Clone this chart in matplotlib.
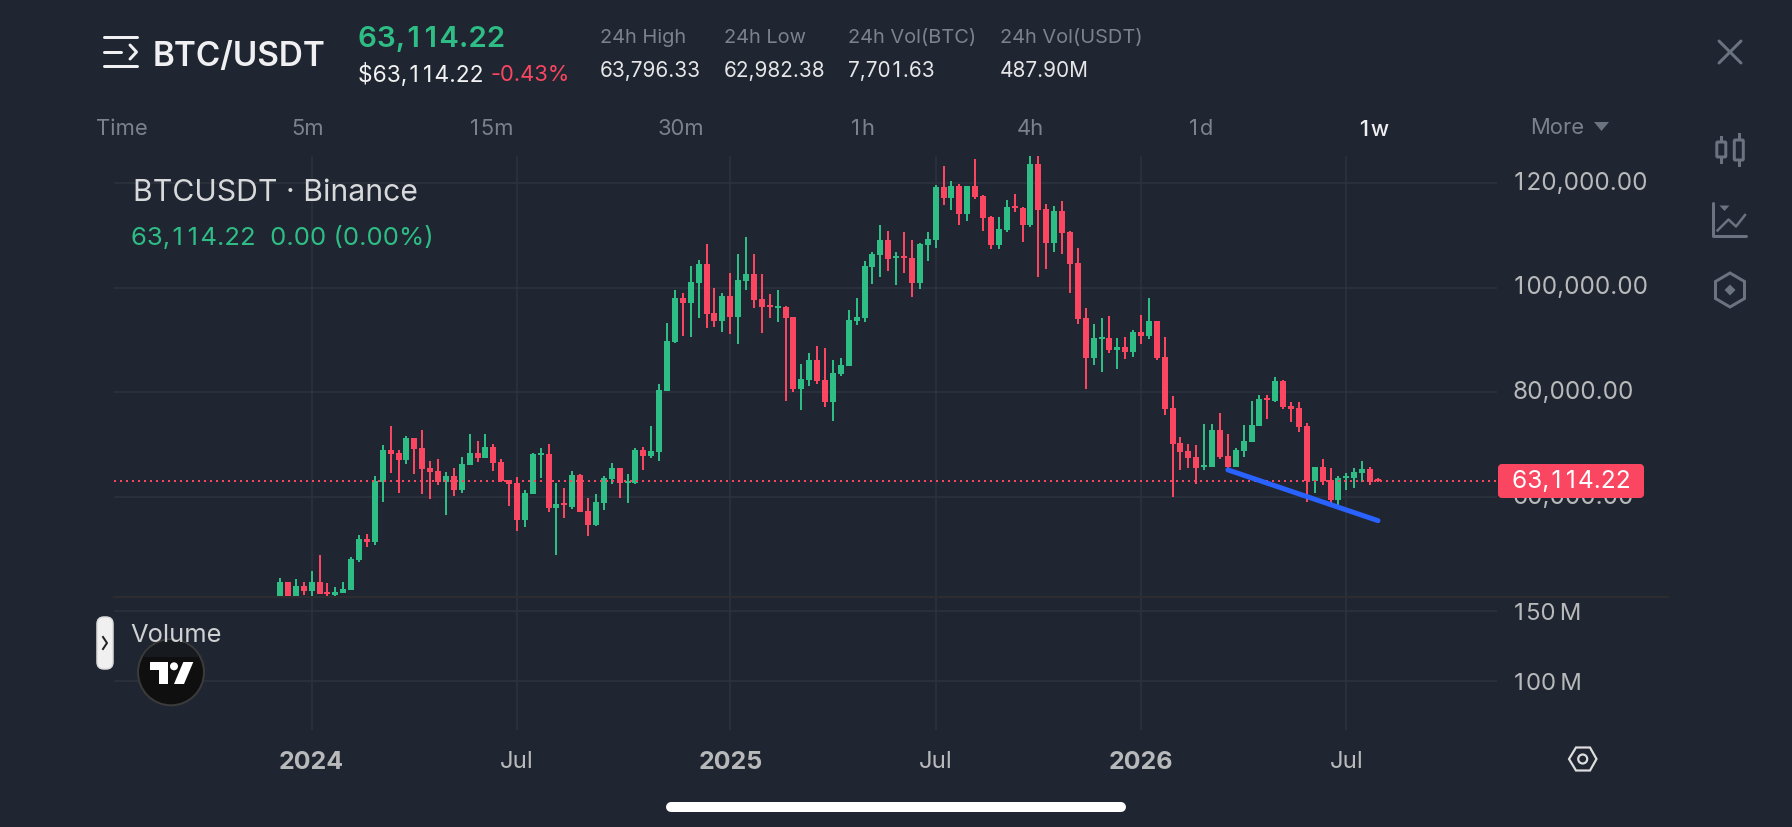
import matplotlib
matplotlib.use("Agg")
import matplotlib.pyplot as plt
from matplotlib.patches import Circle, FancyBboxPatch, Polygon, Rectangle
from matplotlib.ticker import FuncFormatter
from matplotlib.transforms import ScaledTranslation

# weekly candles, prices in thousands of USDT
opens = [40.5, 43.82, 41.15, 43.05, 42.10, 43.82, 41.91, 41.34, 41.72, 42.29,
         48.02, 52.03, 51.46, 62.92, 69.03, 68.46, 67.12, 71.32, 69.41, 65.59,
         65.02, 62.92, 64.07, 61.39, 66.17, 68.46, 67.50, 69.60, 66.74, 63.30,
         62.73, 55.66, 60.63, 68.08, 68.27, 57.95, 58.91, 58.14, 64.26, 57.38,
         54.71, 58.91, 63.49, 65.59, 62.73, 62.73, 69.03, 67.89, 68.65, 80.19,
         89.56, 97.96, 97.01, 100.83, 104.46, 95.10, 93.57, 98.35, 94.33, 101.21,
         102.55, 97.77, 96.63, 96.05, 96.24, 94.33, 80.57, 82.29, 86.12, 82.29,
         78.09, 83.44, 84.97, 93.57, 94.14, 103.89, 106.18, 109.05, 105.61, 105.99,
         105.61, 100.83, 108.09, 109.05, 119.18, 117.08, 119.37, 114.02, 119.37, 117.46,
         113.44, 108.09, 110.96, 115.55, 115.17, 111.92, 123.57, 114.97, 108.48, 114.59,
         110.58, 104.65, 94.14, 86.50, 90.13, 90.32, 88.03, 88.60, 87.65, 91.47,
         90.70, 93.57, 86.69, 76.94, 70.25, 68.72, 67.58, 65.67, 65.67, 72.74,
         67.77, 65.67, 68.72, 70.44, 73.50, 78.85, 78.28, 82.10, 77.32, 76.94,
         73.50, 62.99, 65.67, 63.18, 59.36, 63.56, 63.56, 64.52, 65.28, 63.45]
highs = [44.58, 43.82, 44.39, 43.82, 45.92, 48.98, 43.63, 42.86, 43.82, 48.59,
         52.80, 52.99, 64.07, 69.99, 73.62, 69.03, 71.71, 71.32, 72.85, 66.93,
         67.31, 64.83, 65.59, 67.69, 72.09, 70.75, 72.09, 70.18, 67.31, 63.30,
         63.87, 61.39, 68.46, 69.41, 70.18, 62.73, 61.77, 65.02, 64.45, 59.86,
         60.63, 64.07, 66.55, 65.59, 64.45, 69.41, 69.60, 73.62, 81.64, 93.19,
         99.49, 98.92, 104.08, 105.23, 108.28, 99.88, 98.92, 102.74, 106.37, 109.62,
         106.37, 102.55, 98.73, 99.49, 96.44, 94.33, 85.35, 87.45, 88.79, 88.41,
         86.12, 86.50, 95.67, 97.96, 105.04, 106.76, 111.91, 110.77, 106.76, 110.58,
         109.05, 108.47, 110.58, 119.56, 123.19, 120.32, 119.75, 119.37, 124.53, 117.65,
         113.64, 113.44, 116.69, 117.84, 115.36, 126.20, 126.20, 115.93, 115.55, 116.50,
         110.77, 107.52, 96.06, 93.00, 94.14, 94.53, 90.32, 90.51, 91.85, 94.72,
         97.97, 93.57, 90.51, 79.23, 71.40, 70.06, 69.87, 73.88, 73.88, 75.99,
         71.97, 69.30, 73.69, 78.28, 79.43, 79.43, 82.87, 82.29, 78.09, 78.09,
         74.07, 65.67, 67.19, 65.48, 63.95, 64.52, 65.48, 66.81, 65.67, 63.56]
lows = [40.5, 40.5, 41.15, 41.34, 41.15, 41.53, 41.15, 41.15, 41.72, 42.29,
        47.64, 50.50, 50.89, 59.10, 64.64, 60.82, 66.36, 64.45, 60.63, 59.67,
        62.35, 56.62, 60.25, 60.82, 66.17, 66.74, 67.50, 65.02, 62.92, 58.34,
        53.56, 54.32, 60.63, 63.68, 57.19, 48.98, 56.04, 57.76, 57.19, 52.61,
        54.52, 57.57, 62.54, 59.86, 58.91, 62.54, 65.21, 67.50, 66.93, 80.19,
        89.36, 90.70, 90.51, 94.14, 92.23, 92.42, 91.47, 91.08, 89.17, 99.49,
        96.05, 91.28, 94.14, 93.38, 78.28, 79.99, 76.56, 81.15, 81.53, 77.13,
        74.46, 83.06, 84.97, 92.80, 93.38, 100.64, 101.98, 103.12, 100.45, 102.74,
        98.15, 99.68, 105.04, 107.52, 115.74, 114.78, 111.92, 112.68, 116.89, 110.77,
        107.33, 107.33, 110.58, 114.40, 108.67, 111.53, 101.98, 103.51, 106.76, 106.37,
        98.92, 93.00, 80.58, 85.16, 83.82, 87.46, 84.40, 86.31, 86.69, 89.17,
        90.13, 86.12, 75.61, 59.93, 65.09, 65.48, 62.42, 65.09, 65.67, 67.19,
        64.90, 65.67, 67.58, 70.44, 73.50, 74.84, 78.09, 76.75, 74.27, 72.35,
        58.98, 60.70, 62.23, 58.02, 57.64, 61.27, 61.65, 62.80, 62.23, 62.95]
closes = [43.82, 40.5, 43.05, 42.10, 43.82, 41.53, 41.53, 41.91, 42.48, 48.21,
          52.03, 51.46, 63.11, 69.03, 68.27, 67.12, 71.32, 69.22, 65.40, 64.83,
          62.92, 64.07, 61.39, 66.36, 68.46, 67.50, 69.60, 66.55, 63.11, 62.54,
          55.66, 60.82, 68.27, 68.46, 57.95, 58.72, 58.53, 64.26, 57.19, 54.71,
          59.10, 63.68, 65.59, 62.73, 63.11, 69.03, 67.89, 68.84, 80.49, 89.75,
          97.96, 97.01, 101.02, 104.46, 94.91, 93.57, 98.35, 94.33, 101.40, 102.55,
          97.58, 96.24, 96.24, 96.44, 94.14, 80.57, 82.48, 86.12, 82.10, 78.09,
          83.63, 85.16, 93.76, 94.33, 104.08, 106.37, 109.05, 105.42, 105.99, 105.61,
          100.83, 108.28, 109.24, 119.18, 117.08, 119.37, 114.02, 119.37, 117.27, 113.25,
          108.09, 111.15, 115.36, 115.17, 111.92, 123.57, 114.78, 108.48, 114.59, 110.39,
          104.46, 93.95, 86.50, 90.32, 90.51, 88.03, 88.60, 87.65, 91.47, 90.70,
          93.57, 86.50, 76.75, 70.06, 68.53, 67.39, 65.48, 66.05, 72.74, 67.58,
          65.67, 68.91, 70.63, 73.69, 78.66, 78.47, 82.10, 77.13, 76.75, 73.31,
          62.99, 65.67, 62.99, 59.36, 63.56, 63.95, 64.71, 65.28, 62.80, 63.11]

last_price = 63114.22
trend_x = [120, 139]
trend_y = [65200, 55500]

price_ticks = [60000, 80000, 100000, 120000]
volume_ticks = [100e6, 150e6]
time_idx = [4, 30, 57, 83, 109, 135]
time_labels = ["2024", "Jul", "2025", "Jul", "2026", "Jul"]

header_names = ["24h High", "24h Low", "24h Vol(BTC)", "24h Vol(USDT)"]
header_values = ["63,796.33", "62,982.38", "7,701.63", "487.90M"]
header_x = [600, 724, 848, 1000]
tabs = ["Time", "5m", "15m", "30m", "1h", "4h", "1d", "1w"]
tab_x = [96, 291, 468, 658, 849, 1017, 1187, 1358]

BG = "#1f2631"
GRID = "#2d333e"
UP = "#2ebd85"
DOWN = "#fa4660"
MUTED = "#7b828e"
AXIS_TXT = "#b8b9bb"
W, H = 1792, 828

plt.rcParams["font.family"] = ["Inter", "DejaVu Sans"]


def px(n):
    return n * 0.72


def num(s):
    # the app shows digits at equal width, so pad the narrow 1
    return s.replace("1", "\u200a1\u200a")


def box(l, t, r, b):
    return [l / W, 1 - b / H, (r - l) / W, (b - t) / H]


fig = plt.figure(figsize=(W / 100, H / 100), dpi=100, facecolor=BG)
ax = fig.add_axes(box(114, 157, 1497, 597.7), facecolor="none")
vol = fig.add_axes(box(114, 597.7, 1497, 731), facecolor="none", sharex=ax)
ui = fig.add_axes([0, 0, 1, 1], facecolor="none", zorder=5)
ui.set_xlim(0, W)
ui.set_ylim(H - 1, -1)
ui.axis("off")

# price pane
x_vals = range(len(opens))
colors = [UP if c >= o else DOWN for o, c in zip(opens, closes)]
ax.vlines(x_vals, [v * 1000 for v in lows], [v * 1000 for v in highs],
          colors=colors, linewidth=px(2), antialiased=False, zorder=3)
body_bottom = [min(o, c) * 1000 for o, c in zip(opens, closes)]
body_height = [abs(o - c) * 1000 for o, c in zip(opens, closes)]
ax.bar(x_vals, body_height, bottom=body_bottom, width=0.76, color=colors,
       linewidth=0, antialiased=False, zorder=3)
ax.axhline(last_price, color=DOWN, linewidth=px(2), linestyle=(0, (1, 2)), zorder=4)
ax.plot(trend_x, trend_y, color="#2962ff", linewidth=px(5),
        solid_capstyle="round", zorder=5)

ax.set_xlim(-21.02, 154.07)
ax.set_ylim(40970, 125160)
ax.yaxis.tick_right()
ax.set_yticks(price_ticks)
ax.yaxis.set_major_formatter(FuncFormatter(lambda v, p: num(f"{v:,.2f}")))
ax.tick_params(axis="y", length=0, pad=px(15), labelsize=px(24.3), labelcolor=AXIS_TXT)
ax.tick_params(axis="x", length=0, labelbottom=False)
ax.set_xticks(time_idx)
ax.grid(True, color=GRID, linewidth=px(1.6))
ax.set_axisbelow(True)
for s in ax.spines.values():
    s.set_visible(False)
fig.canvas.draw()
for lab in ax.get_yticklabels():
    lab.set_transform(lab.get_transform() + ScaledTranslation(0, 3.5 / 100, fig.dpi_scale_trans))

# volume pane, no bars visible in it
vol.set_ylim(65e6, 160e6)
vol.yaxis.tick_right()
vol.set_yticks(volume_ticks)
vol.yaxis.set_major_formatter(FuncFormatter(lambda v, p: num(f"{v / 1e6:.0f}") + "\u200a\u200aM"))
vol.tick_params(axis="y", length=0, pad=px(15), labelsize=px(24), labelcolor=AXIS_TXT)
vol.set_xticks(time_idx)
vol.set_xticklabels(time_labels)
vol.tick_params(axis="x", length=0, pad=px(20), labelsize=px(24), labelcolor=AXIS_TXT)
for lab in vol.get_xticklabels():
    if lab.get_text() != "Jul":
        lab.set_fontweight("bold")
        lab.set_fontsize(px(25))
vol.grid(True, color=GRID, linewidth=px(1.6))
vol.set_axisbelow(True)
for s in vol.spines.values():
    s.set_visible(False)
ui.plot([114, 1668], [596.7, 596.7], color="#2d2c2e", linewidth=px(2))


def txt(x, y, s, size, color, ha="left", weight="normal"):
    ui.text(x, y, s, fontsize=px(size), color=color, ha=ha, va="center", fontweight=weight)


# header
ui.plot([103.5, 136.5], [37, 37], color="#f0f0f2", linewidth=px(3), solid_capstyle="round")
ui.plot([103.5, 121], [52, 52], color="#f0f0f2", linewidth=px(3), solid_capstyle="round")
ui.plot([103.5, 136.5], [66, 66], color="#f0f0f2", linewidth=px(3), solid_capstyle="round")
ui.plot([130, 136.5, 130], [45, 52, 59], color="#f0f0f2", linewidth=px(3),
        solid_capstyle="round", solid_joinstyle="round")
txt(153, 55.5, "BTC/USDT", 33.3, "#f0f0f2", weight="semibold")
txt(357.5, 38.5, num("63,114.22"), 29.5, UP, weight="semibold")
txt(357.5, 73.7, num("$63,114.22"), 22.8, "#f2f2f2")
txt(490, 73.7, "-0.43%", 22, DOWN)
for x, name, value in zip(header_x, header_names, header_values):
    txt(x, 37.3, name, 20, MUTED)
    txt(x, 70, num(value), 20.8, "#e6e6e8")

for x, tab in zip(tab_x, tabs):
    if tab == "1w":
        txt(x, 128.7, num(tab), 22, "#f0f0f2", weight="medium")
    else:
        txt(x, 127.7, num(tab), 22, MUTED)
txt(1530.5, 127, "More", 22, MUTED)
ui.add_patch(Polygon([(1594, 122), (1609, 122), (1601.5, 131)], color="#6b7280", linewidth=0))

# legend of the chart
txt(133, 192, "BTCUSDT · Binance", 30.2, "#d8d9da")
txt(131, 237.3, num("63,114.22") + "  0.00 (0.00%)", 25.7, UP)
txt(130.7, 634.7, "Volume", 25.5, "#d0d1d3")

# last price tag
ui.add_patch(FancyBboxPatch((1500, 466), 142, 30, boxstyle="round,pad=0,rounding_size=2",
                            facecolor=DOWN, edgecolor=DOWN, linewidth=px(4)))
txt(1571, 480.3, num("63,114.22"), 24.5, "white", ha="center")

# side icons
ICON = "#6b7280"
ui.plot([1719, 1741], [41, 63], color=ICON, linewidth=px(3), solid_capstyle="round")
ui.plot([1719, 1741], [63, 41], color=ICON, linewidth=px(3), solid_capstyle="round")
for cx, w_t, w_b, b_t, b_b in [(1721.3, 137, 162, 142, 157), (1738.8, 134, 165, 140, 160)]:
    ui.plot([cx, cx], [w_t, w_b], color=ICON, linewidth=px(3))
    ui.add_patch(FancyBboxPatch((cx - 4.5, b_t), 9, b_b - b_t, boxstyle="round,pad=0,rounding_size=1",
                                facecolor=BG, edgecolor=ICON, linewidth=px(3), zorder=3))
ui.plot([1713, 1713, 1745.5], [203, 235.5, 235.5], color=ICON, linewidth=px(3), solid_capstyle="round")
ui.plot([1717.5, 1728.5, 1736, 1745], [230.5, 219.5, 226.5, 215], color=ICON, linewidth=px(2.5))
ui.add_patch(Polygon([(1719.5, 205.5), (1729.5, 205.5), (1724.5, 211)], color=ICON, linewidth=0))
ui.add_patch(Polygon([(1730, 273), (1744.5, 281.5), (1744.5, 298.5), (1730, 307), (1715.5, 298.5), (1715.5, 281.5)],
                     facecolor="none", edgecolor=ICON, linewidth=px(3)))
ui.add_patch(Polygon([(1730, 284.5), (1735.5, 290), (1730, 295.5), (1724.5, 290)], color=ICON, linewidth=0))

# settings hexagon
ui.add_patch(Polygon([(1569, 759), (1576, 747.5), (1590, 747.5), (1596.5, 759), (1590, 770.5), (1576, 770.5)],
                     facecolor="none", edgecolor="#dedede", linewidth=px(2.2)))
ui.add_patch(Circle((1582.7, 759), 4.5, facecolor="none", edgecolor="#dedede", linewidth=px(2.2)))

# drawer handle
ui.add_patch(FancyBboxPatch((97, 617), 16, 52, boxstyle="round,pad=0,rounding_size=7",
                            facecolor="#f0f0f0", edgecolor="#dcdcdc", linewidth=px(1.5)))
ui.plot([103, 107, 103], [637, 643, 649], color="#222222", linewidth=px(2))

# tradingview badge
badge = Circle((171, 672.3), 33, facecolor="#0f0f0f", edgecolor="#3b3b3b", linewidth=px(2))
ui.add_patch(badge)
band = Rectangle((138, 639), 66, 18, facecolor="#171a1f", linewidth=0)
ui.add_patch(band)
band.set_clip_path(Circle((171, 672.3), 32, transform=ui.transData))
ui.add_patch(Polygon([(150, 662), (168.3, 662), (168.3, 684), (159.3, 684), (159.3, 670), (150, 670)],
                     color="white", linewidth=0))
ui.add_patch(Circle((174, 666.3), 4, color="white", linewidth=0))
ui.add_patch(Polygon([(183.3, 662), (193.3, 662), (184, 684), (174, 684)], color="white", linewidth=0))

# home bar
ui.plot([671, 1121], [807, 807], color="white", linewidth=px(10), solid_capstyle="round")

fig.savefig("out.png", dpi=100, facecolor=BG)
